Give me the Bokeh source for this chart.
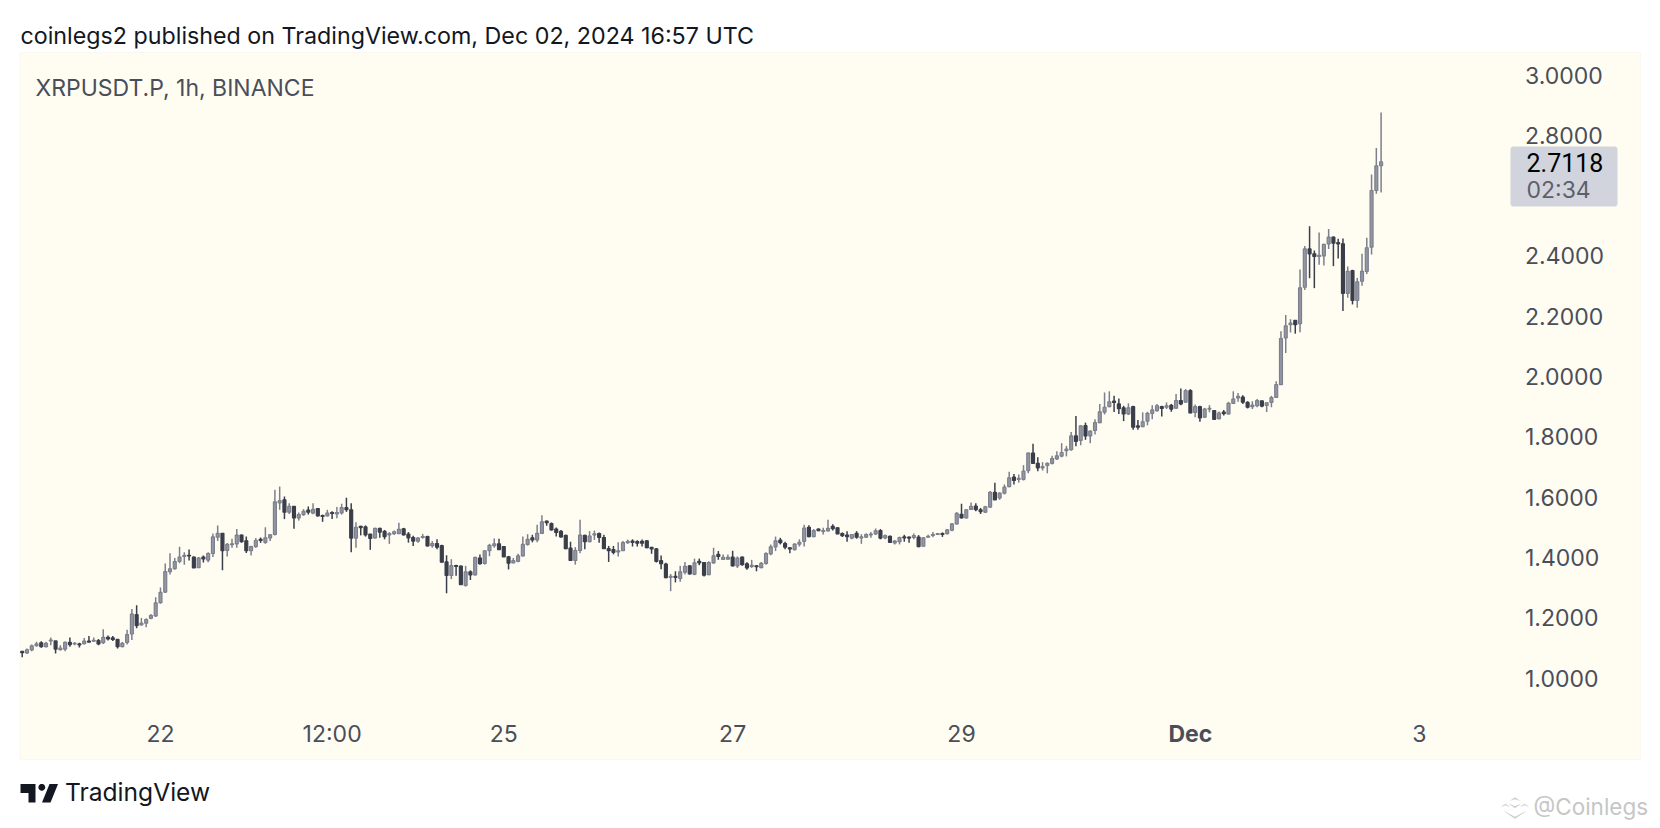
import numpy as np
from bokeh.embed import file_html
from bokeh.resources import INLINE
from bokeh.plotting import figure
from bokeh.models import (ColumnDataSource, FixedTicker, Label, BoxAnnotation, PolyAnnotation,
                          NumeralTickFormatter, LinearAxis)

# Hourly candles (open, high, low, close), one list per calendar day
nov20 = [(1.088,1.089,1.069,1.084),(1.083,1.098,1.080,1.093),(1.093,1.111,1.089,1.107),(1.107,1.120,1.104,1.113),(1.117,1.122,1.100,1.104)]
nov21 = [(1.104,1.120,1.101,1.115),(1.123,1.134,1.109,1.126),(1.123,1.123,1.081,1.096),(1.094,1.109,1.091,1.099),(1.096,1.121,1.089,1.118),(1.118,1.134,1.104,1.111),
 (1.113,1.119,1.109,1.115),(1.113,1.117,1.101,1.110),(1.114,1.133,1.111,1.122),(1.122,1.139,1.118,1.119),(1.122,1.134,1.119,1.125),(1.124,1.129,1.109,1.113),
 (1.117,1.162,1.113,1.135),(1.135,1.141,1.124,1.130),(1.133,1.139,1.123,1.128),(1.128,1.129,1.098,1.104),(1.104,1.119,1.102,1.115),(1.118,1.160,1.111,1.144),
 (1.146,1.229,1.126,1.212),(1.210,1.241,1.165,1.174),(1.176,1.199,1.174,1.182),(1.182,1.198,1.168,1.194),(1.198,1.212,1.195,1.207),(1.206,1.268,1.202,1.249)]
nov22 = [(1.250,1.300,1.246,1.284),(1.285,1.380,1.282,1.353),(1.353,1.414,1.343,1.362),(1.363,1.398,1.359,1.386),(1.387,1.435,1.381,1.401),(1.403,1.417,1.376,1.407),
 (1.407,1.426,1.390,1.405),(1.401,1.403,1.365,1.365),(1.366,1.401,1.365,1.398),(1.401,1.406,1.383,1.395),(1.391,1.417,1.384,1.413),(1.413,1.479,1.401,1.468),
 (1.467,1.506,1.454,1.480),(1.480,1.480,1.357,1.422),(1.423,1.448,1.403,1.443),(1.442,1.462,1.432,1.445),(1.445,1.494,1.432,1.474),(1.474,1.476,1.449,1.452),
 (1.455,1.469,1.415,1.422),(1.422,1.439,1.406,1.436),(1.436,1.464,1.432,1.456),(1.460,1.466,1.448,1.456),(1.450,1.500,1.445,1.465),(1.465,1.478,1.454,1.475)]
nov23 = [(1.476,1.624,1.473,1.584),(1.581,1.635,1.558,1.588),(1.591,1.602,1.527,1.550),(1.550,1.580,1.544,1.569),(1.569,1.570,1.495,1.531),(1.531,1.549,1.522,1.542),
 (1.542,1.560,1.538,1.553),(1.557,1.569,1.542,1.550),(1.547,1.580,1.543,1.559),(1.562,1.564,1.536,1.538),(1.539,1.542,1.518,1.536),(1.538,1.558,1.536,1.547),
 (1.549,1.553,1.527,1.546),(1.544,1.567,1.530,1.549),(1.548,1.578,1.542,1.565),(1.565,1.598,1.551,1.558),(1.558,1.580,1.417,1.464),(1.464,1.517,1.432,1.500),
 (1.503,1.505,1.473,1.499),(1.501,1.506,1.469,1.475),(1.477,1.478,1.425,1.463),(1.465,1.498,1.463,1.496),(1.496,1.498,1.465,1.484),(1.486,1.491,1.460,1.469)]
nov24 = [(1.475,1.484,1.445,1.479),(1.479,1.489,1.474,1.485),(1.479,1.515,1.478,1.493),(1.495,1.498,1.473,1.475),(1.477,1.484,1.449,1.465),(1.466,1.472,1.438,1.454),
 (1.454,1.468,1.449,1.464),(1.466,1.478,1.462,1.469),(1.469,1.472,1.436,1.438),(1.439,1.454,1.432,1.446),(1.446,1.460,1.427,1.434),(1.439,1.442,1.383,1.384),
 (1.385,1.407,1.281,1.340),(1.340,1.394,1.328,1.373),(1.373,1.376,1.339,1.370),(1.371,1.373,1.309,1.310),(1.307,1.372,1.303,1.352),(1.352,1.357,1.325,1.342),
 (1.342,1.402,1.340,1.400),(1.398,1.410,1.376,1.379),(1.380,1.423,1.376,1.422),(1.422,1.445,1.404,1.440),(1.439,1.463,1.432,1.445),(1.445,1.462,1.425,1.426)]
nov25 = [(1.436,1.438,1.401,1.402),(1.402,1.405,1.360,1.381),(1.382,1.398,1.381,1.389),(1.387,1.412,1.384,1.405),(1.405,1.469,1.403,1.443),(1.443,1.477,1.439,1.460),
 (1.465,1.475,1.450,1.458),(1.458,1.508,1.450,1.480),(1.480,1.540,1.478,1.518),(1.520,1.522,1.505,1.515),(1.512,1.516,1.489,1.491),(1.494,1.499,1.469,1.483),
 (1.486,1.491,1.465,1.468),(1.473,1.475,1.427,1.429),(1.431,1.452,1.390,1.390),(1.390,1.434,1.376,1.423),(1.423,1.525,1.414,1.474),(1.473,1.475,1.427,1.452),
 (1.452,1.487,1.450,1.471),(1.475,1.489,1.458,1.478),(1.479,1.483,1.449,1.466),(1.466,1.475,1.428,1.429),(1.429,1.438,1.385,1.422),(1.426,1.438,1.410,1.417)]
nov26 = [(1.418,1.450,1.403,1.422),(1.422,1.454,1.421,1.449),(1.449,1.459,1.445,1.453),(1.454,1.460,1.436,1.450),(1.452,1.457,1.436,1.447),(1.453,1.459,1.436,1.447),
 (1.455,1.458,1.430,1.432),(1.433,1.435,1.412,1.428),(1.428,1.431,1.383,1.387),(1.389,1.406,1.361,1.379),(1.378,1.382,1.331,1.333),(1.334,1.345,1.288,1.337),
 (1.337,1.354,1.317,1.334),(1.330,1.372,1.319,1.352),(1.351,1.385,1.343,1.370),(1.372,1.374,1.343,1.345),(1.344,1.396,1.341,1.382),(1.387,1.396,1.374,1.382),
 (1.383,1.385,1.337,1.341),(1.343,1.387,1.341,1.383),(1.382,1.432,1.379,1.405),(1.410,1.421,1.392,1.403),(1.393,1.410,1.392,1.400),(1.394,1.410,1.392,1.400)]
nov27 = [(1.401,1.422,1.370,1.372),(1.372,1.403,1.365,1.398),(1.401,1.403,1.372,1.376),(1.379,1.384,1.359,1.365),(1.370,1.392,1.365,1.374),(1.372,1.374,1.354,1.369),
 (1.366,1.385,1.364,1.380),(1.380,1.417,1.376,1.413),(1.412,1.443,1.407,1.435),(1.435,1.469,1.421,1.455),(1.457,1.465,1.443,1.449),(1.446,1.452,1.427,1.434),
 (1.432,1.434,1.414,1.428),(1.426,1.447,1.423,1.444),(1.444,1.460,1.436,1.450),(1.453,1.508,1.436,1.497),(1.500,1.507,1.467,1.469),(1.469,1.494,1.467,1.489),
 (1.494,1.496,1.487,1.489),(1.486,1.498,1.476,1.489),(1.488,1.525,1.486,1.496),(1.503,1.510,1.489,1.495),(1.498,1.500,1.477,1.478),(1.479,1.483,1.468,1.472)]
nov28 = [(1.474,1.487,1.452,1.469),(1.464,1.478,1.460,1.476),(1.480,1.487,1.462,1.467),(1.465,1.477,1.445,1.468),(1.467,1.480,1.464,1.476),(1.475,1.484,1.465,1.477),
 (1.478,1.496,1.474,1.488),(1.489,1.494,1.460,1.464),(1.465,1.476,1.460,1.472),(1.470,1.473,1.448,1.450),(1.448,1.458,1.443,1.454),(1.452,1.469,1.443,1.466),
 (1.468,1.475,1.452,1.465),(1.467,1.469,1.449,1.464),(1.466,1.479,1.460,1.472),(1.467,1.474,1.434,1.436),(1.437,1.467,1.436,1.465),(1.467,1.475,1.466,1.470),
 (1.473,1.484,1.467,1.476),(1.476,1.481,1.474,1.479),(1.479,1.483,1.468,1.476),(1.479,1.494,1.476,1.491),(1.490,1.514,1.487,1.511),(1.511,1.550,1.509,1.546)]
nov29 = [(1.543,1.578,1.529,1.531),(1.531,1.560,1.529,1.558),(1.559,1.582,1.558,1.569),(1.570,1.580,1.553,1.558),(1.558,1.564,1.544,1.552),(1.550,1.571,1.547,1.568),
 (1.567,1.620,1.564,1.616),(1.616,1.648,1.590,1.591),(1.597,1.616,1.591,1.613),(1.613,1.642,1.609,1.633),(1.635,1.684,1.633,1.664),(1.666,1.677,1.642,1.655),
 (1.659,1.675,1.648,1.662),(1.659,1.706,1.655,1.686),(1.688,1.748,1.679,1.746),(1.746,1.777,1.710,1.712),(1.712,1.732,1.686,1.697),(1.697,1.716,1.688,1.701),
 (1.705,1.715,1.679,1.712),(1.712,1.737,1.708,1.728),(1.727,1.752,1.723,1.737),(1.736,1.779,1.732,1.748),(1.754,1.770,1.735,1.759),(1.757,1.816,1.754,1.803)]
nov30 = [(1.803,1.869,1.769,1.785),(1.788,1.838,1.772,1.836),(1.837,1.847,1.790,1.803),(1.803,1.821,1.779,1.819),(1.821,1.858,1.808,1.847),(1.847,1.909,1.845,1.883),
 (1.882,1.947,1.874,1.898),(1.900,1.951,1.898,1.916),(1.918,1.936,1.882,1.914),(1.909,1.927,1.876,1.893),(1.896,1.903,1.852,1.876),(1.876,1.911,1.872,1.896),
 (1.900,1.903,1.823,1.832),(1.836,1.856,1.823,1.832),(1.834,1.881,1.832,1.850),(1.852,1.883,1.838,1.878),(1.878,1.905,1.858,1.889),(1.887,1.909,1.883,1.903),
 (1.900,1.903,1.867,1.894),(1.898,1.914,1.892,1.903),(1.904,1.909,1.883,1.892),(1.895,1.942,1.892,1.920),(1.920,1.960,1.905,1.909),(1.915,1.958,1.913,1.953)]
dec01 = [(1.953,1.958,1.878,1.879),(1.881,1.907,1.865,1.900),(1.900,1.903,1.850,1.863),(1.865,1.896,1.863,1.892),(1.892,1.905,1.881,1.894),(1.887,1.887,1.858,1.858),
 (1.860,1.884,1.857,1.879),(1.882,1.889,1.871,1.877),(1.876,1.916,1.874,1.911),(1.911,1.951,1.909,1.925),(1.929,1.945,1.916,1.934),(1.932,1.938,1.909,1.915),
 (1.914,1.918,1.894,1.898),(1.900,1.918,1.892,1.905),(1.903,1.925,1.898,1.920),(1.919,1.920,1.898,1.902),(1.904,1.915,1.882,1.913),(1.914,1.936,1.898,1.930),
 (1.931,1.984,1.929,1.973),(1.973,2.150,1.973,2.126),(2.128,2.204,2.078,2.168),(2.172,2.190,2.146,2.177),(2.186,2.186,2.142,2.172),(2.175,2.355,2.147,2.294)]
dec02 = [(2.296,2.433,2.287,2.423),(2.423,2.498,2.326,2.407),(2.407,2.418,2.293,2.398),(2.398,2.478,2.371,2.402),(2.400,2.440,2.368,2.438),(2.440,2.489,2.423,2.462),
 (2.462,2.464,2.366,2.442),(2.444,2.457,2.391,2.440),(2.440,2.458,2.217,2.276),(2.276,2.365,2.261,2.349),(2.351,2.354,2.239,2.252),(2.252,2.327,2.228,2.314),
 (2.316,2.407,2.301,2.349),(2.349,2.460,2.340,2.427),(2.429,2.670,2.405,2.617),(2.617,2.758,2.606,2.699),(2.699,2.876,2.610,2.7118)]

y_ticks = [1.0, 1.2, 1.4, 1.6, 1.8, 2.0, 2.2, 2.4, 2.8, 3.0]
x_tick_hours = [29, 65, 101, 149, 197, 293]
x_tick_labels = ["22", "12:00", "25", "27", "29", "3"]
dec_tick_hour = [245]
dec_tick_label = ["Dec"]

BG = "#fffdf2"
UP_LINE, UP_FILL, DOWN = "#7c7f8c", "#9396a3", "#3a3e4a"
INK, TEXT = "#131722", "#4a4e5a"
FONT = "Inter"

days = [nov20, nov21, nov22, nov23, nov24, nov25, nov26, nov27, nov28, nov29, nov30, dec01, dec02]
rows = np.array([c for d in days for c in d])
hours = np.arange(len(rows))
o, h, l, c = rows.T
up = c >= o
src_up = ColumnDataSource(dict(x=hours[up], o=o[up], h=h[up], l=l[up], c=c[up]))
src_dn = ColumnDataSource(dict(x=hours[~up], o=o[~up], h=h[~up], l=l[~up], c=c[~up]))

W, H = 1656, 824
p = figure(width=W, height=H, output_backend="svg", toolbar_location=None,
           x_range=(-4.551, 342.76), y_range=(0.5141, 3.2471),
           x_axis_location="below", y_axis_location="right",
           min_border=0, min_border_left=0, min_border_right=0, min_border_top=0, min_border_bottom=0,
           background_fill_color="white", border_fill_color="white")
p.grid.visible = False
p.outline_line_color = None

def sx(x): return x
def sy(y): return H - y

# chart pane
p.add_layout(BoxAnnotation(left=sx(19.5), right=sx(1640), bottom=sy(759), top=sy(52),
                           left_units="screen", right_units="screen", top_units="screen", bottom_units="screen",
                           fill_color=BG, fill_alpha=1, line_color="#eeece2", line_width=1, level="underlay"))

p.segment("x", "h", "x", "l", source=src_up, color=UP_LINE, line_width=1.5)
p.segment("x", "h", "x", "l", source=src_dn, color=DOWN, line_width=1.5)
p.vbar("x", 0.62, "o", "c", source=src_up, fill_color=UP_FILL, line_color=UP_LINE, line_width=1.2)
p.vbar("x", 0.62, "o", "c", source=src_dn, fill_color=DOWN, line_color=DOWN, line_width=1.2)

def style(ax):
    ax.axis_line_color = None
    ax.major_tick_line_color = None
    ax.minor_tick_line_color = None
    ax.major_label_text_font = FONT
    ax.major_label_text_font_size = "23px"
    ax.major_label_text_color = TEXT

ax_y = p.yaxis[0]
style(ax_y)
ax_y.fixed_location = 313.5
ax_y.ticker = FixedTicker(ticks=y_ticks)
ax_y.formatter = NumeralTickFormatter(format="0.0000")
ax_y.major_label_standoff = 2

ax_x = p.xaxis[0]
style(ax_x)
ax_x.fixed_location = 0.887
ax_x.ticker = FixedTicker(ticks=x_tick_hours)
ax_x.major_label_overrides = dict(zip(x_tick_hours, x_tick_labels))
ax_x.major_label_standoff = 2

ax_dec = LinearAxis(fixed_location=0.887, ticker=FixedTicker(ticks=dec_tick_hour),
                    major_label_overrides=dict(zip(dec_tick_hour, dec_tick_label)))
style(ax_dec)
ax_dec.major_label_text_font_style = "bold"
ax_dec.major_label_standoff = 2
p.add_layout(ax_dec, "below")

def label(text, x, y, size, color, style="normal", font=FONT):
    p.add_layout(Label(x=sx(x), y=sy(y), x_units="screen", y_units="screen", text=text,
                       text_font=font, text_font_size=size, text_color=color,
                       text_baseline="middle", text_align="left", text_font_style=style))

def poly(xs, ys, fill, line=None, lw=1, fa=1.0):
    p.add_layout(PolyAnnotation(xs=[sx(v) for v in xs], ys=[sy(v) for v in ys],
                                xs_units="screen", ys_units="screen",
                                fill_color=fill, fill_alpha=fa, line_color=line, line_width=lw))

label("coinlegs2 published on TradingView.com, Dec 02, 2024 16:57 UTC", 20, 34.5, "23.25px", INK)
label("XRPUSDT.P, 1h, BINANCE", 35, 87, "23px", TEXT)

p.add_layout(BoxAnnotation(left=sx(1510), right=sx(1617), bottom=sy(206), top=sy(146),
                           left_units="screen", right_units="screen", top_units="screen", bottom_units="screen",
                           fill_color="#d1d4dc", fill_alpha=1, line_color=None, border_radius=3))
label("2.7118", 1526, 162, "25px", "#000000", font="Roboto")
label("02:34", 1526, 189, "23px", "#5d606b")

# TradingView logo and name
poly([20, 35, 35, 28, 28, 20], [783.5, 783.5, 802, 802, 792.5, 792.5], INK)
t = np.linspace(0, 2 * np.pi, 24)
poly(list(41.3 + 3.4 * np.cos(t)), list(786.8 + 3.4 * np.sin(t)), INK)
poly([57.5, 50, 41.5, 49], [783.5, 802, 802, 783.5], INK)
label("TradingView", 64.5, 791, "24.6px", INK)

# Watermark
for xs, ys in [([1510, 1514.5, 1519, 1514.5], [800, 797, 800, 798.6]),
               ([1501, 1505, 1509, 1505], [806, 803.5, 806, 804.6]),
               ([1520, 1524, 1528, 1524], [806, 803.5, 806, 804.6]),
               ([1509, 1514.5, 1520, 1514.5], [803.5, 807.5, 803.5, 806]),
               ([1504, 1514.5, 1525, 1514.5], [811, 818, 811, 816.5])]:
    poly(xs, ys, "#c6c6c6", "#c6c6c6", 0.8)
label("@Coinlegs", 1533, 806, "22.5px", "#c6c6c6")

open("out.html", "w").write(file_html(p, INLINE))
